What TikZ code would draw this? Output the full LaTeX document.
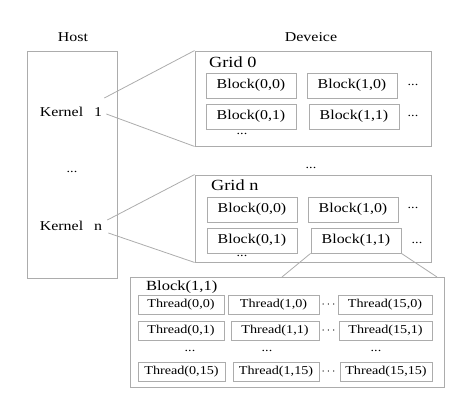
\documentclass[tikz,border=0pt]{standalone}
\usepackage{fontspec}
\setmainfont{Liberation Serif}[FakeStretch=1.18]
\usepackage{tikz}
\usetikzlibrary{positioning}
\definecolor{boxgray}{RGB}{172,172,172}

\begin{document}
\begin{tikzpicture}[x=1pt,y=-1pt, every node/.style={inner sep=0pt},
        frame/.style={draw=boxgray,line width=0.9pt,rectangle},
        blk/.style={frame,minimum width=90pt,minimum height=25pt,font=\fontsize{13.5}{15}\selectfont},
        thr/.style={frame,minimum width=88pt,minimum height=19pt,font=\fontsize{12}{14}\selectfont},
        lbl/.style={font=\fontsize{13.5}{15}\selectfont},
        title/.style={anchor=west,font=\fontsize{15.5}{17}\selectfont},
        dots/.style={font=\fontsize{12}{14}\selectfont}]
        \useasboundingbox (0,0) rectangle (474,412);

        % host side
        \node[lbl]                                          (host)  at (73,37)      {Host};
        \node[frame,minimum width=90pt,minimum height=227pt] (hbox) at (72,164.5)   {};
        \node[lbl]                                          (k1)    at (71,112)     {Kernel\hspace{11pt}1};
        \node[dots]                                         (kd)    at (72,172)     {...};
        \node[lbl]                                          (kn)    at (71,226)     {Kernel\hspace{11pt}n};

        % device side
        \node[lbl]                                          (dev)   at (311,37)     {Deveice};
        \node[frame,minimum width=236pt,minimum height=95pt] (g0)   at (313,98.5)   {};
        \node[title]                                        (g0t)   at (209,62)     {Grid 0};
        \node[blk]  (g0b00) at (251,85.5)  {Block(0,0)};
        \node[blk]  (g0b10) at (352,85.5)  {Block(1,0)};
        \node[blk]  (g0b01) at (251,116.5) {Block(0,1)};
        \node[blk]  (g0b11) at (354,116.5) {Block(1,1)};
        \node[dots] (g0d1)  at (413,85)    {...};
        \node[dots] (g0d2)  at (413,116)   {...};
        \node[dots] (g0d3)  at (242,134)   {...};

        \node[dots]                                         (gd)    at (311,168)    {...};

        \node[frame,minimum width=236pt,minimum height=87pt] (gn)   at (313,218.5)  {};
        \node[title]                                        (gnt)   at (211,185)    {Grid n};
        \node[blk]  (gnb00) at (252,209.5) {Block(0,0)};
        \node[blk]  (gnb10) at (353,209.5) {Block(1,0)};
        \node[blk]  (gnb01) at (252,240.5) {Block(0,1)};
        \node[blk]  (gnb11) at (356,240.5) {Block(1,1)};
        \node[dots] (gnd1)  at (413,208)   {...};
        \node[dots] (gnd2)  at (417,243)   {...};
        \node[dots] (gnd3)  at (242,256)   {...};

        % block(1,1) in detail
        \node[frame,minimum width=314pt,minimum height=110pt] (bb)  at (287,332)    {};
        \node[title,font=\fontsize{14}{16}\selectfont]      (bbt)   at (146,287)    {Block(1,1)};
        \coordinate (zl) at (282,277);
        \coordinate (zr) at (437,277);

        \node[thr,minimum width=86pt] (t00)  at (181,305)   {Thread(0,0)};
        \node[thr,minimum width=91pt] (t10)  at (273.5,305) {Thread(1,0)};
        \node[thr,minimum width=94pt] (t150) at (385,305)   {Thread(15,0)};
        \node[thr,minimum width=86pt] (t01)  at (181,331)   {Thread(0,1)};
        \node[thr,minimum width=88pt] (t11)  at (275,331)   {Thread(1,1)};
        \node[thr,minimum width=93pt] (t151) at (385.5,331) {Thread(15,1)};
        \node[thr,minimum width=87pt] (t015) at (181.5,372) {Thread(0,15)};
        \node[thr,minimum width=86pt] (t115) at (276,372)   {Thread(1,15)};
        \node[thr,minimum width=92pt] (t1515) at (386,372)  {Thread(15,15)};
        \node[dots] (td1) at (328.5,305) {$\cdots$};
        \node[dots] (td2) at (328.5,331) {$\cdots$};
        \node[dots] (td3) at (328.5,372) {$\cdots$};
        \node[dots] (td4) at (190,351)   {...};
        \node[dots] (td5) at (267,351)   {...};
        \node[dots] (td6) at (376,351)   {...};

        \path[draw=boxgray,line width=0.8pt]
                ([shift={(2pt,14pt)}]k1.east)   edge (g0.north west)
                ([shift={(4pt,-2pt)}]k1.east)   edge (g0.south west)
                ([shift={(5pt,6pt)}]kn.east)    edge (gn.north west)
                ([shift={(6pt,-7pt)}]kn.east)   edge (gn.south west)
                (gnb11.south west)              edge (zl)
                (gnb11.south east)              edge (zr);

\end{tikzpicture}
\end{document}
